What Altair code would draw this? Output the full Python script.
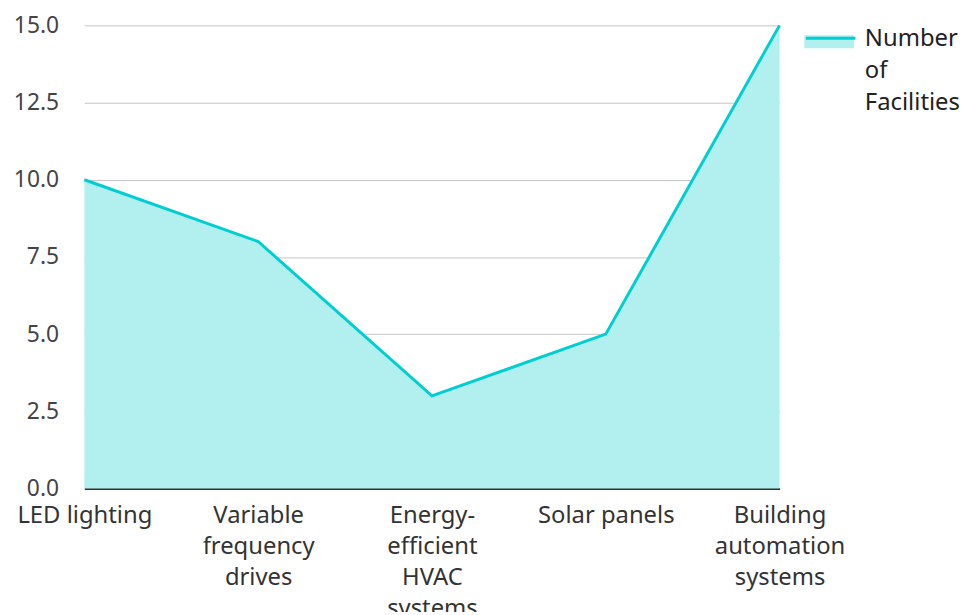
import altair as alt
import pandas as pd

categories = ["LED lighting", "Variable frequency drives", "Energy-efficient HVAC systems",
              "Solar panels", "Building automation systems"]
values = [10, 8, 3, 5, 15]
wrapped = [["LED lighting"], ["Variable", "frequency", "drives"],
           ["Energy-", "efficient", "HVAC", "systems"], ["Solar panels"],
           ["Building", "automation", "systems"]]
series_name = "Number of Facilities"
series_lines = ["Number", "of", "Facilities"]
y_ticks = [0, 2.5, 5, 7.5, 10, 12.5, 15]

LINE = "#00CED1"
FILL = "#B2EFEF"
FONT = "Noto Sans"

df = pd.DataFrame({"category": categories, "value": values})

mapping = "{" + ", ".join(
    "'" + c + "': [" + ", ".join("'" + w + "'" for w in ws) + "]"
    for c, ws in zip(categories, wrapped)) + "}"

x_enc = alt.X("category:N", sort=categories, title=None,
              scale=alt.Scale(type="point", padding=0),
              axis=alt.Axis(labelAngle=0, labelExpr=mapping + "[datum.label]",
                            labelFont=FONT, labelFontSize=24, labelColor="#333333",
                            labelLineHeight=31.5, labelPadding=15, ticks=False,
                            domainColor="#333333", domainWidth=2, grid=False,
                            labelBaseline="top", labelLimit=300))
y_enc = alt.Y("value:Q", title=None,
              scale=alt.Scale(domain=[0, 15], nice=False),
              axis=alt.Axis(values=y_ticks, format=".1f", labelFont=FONT, labelFontSize=23,
                            labelColor="#444444", labelPadding=26, ticks=False, domain=False,
                            gridColor="#c4c4c4", gridWidth=1))

area = alt.Chart(df).mark_area(opacity=1).encode(
    x=x_enc, y=y_enc,
    fill=alt.Fill("s:N", scale=alt.Scale(domain=["fill"], range=[FILL]),
                  legend=alt.Legend(title=None, orient="none", legendX=726, legendY=2,
                                    symbolType="M-1,-0.68H1V-0.16H-1Z", symbolSize=2500,
                                    symbolStrokeWidth=0, labelExpr="''",
                                    padding=0)),
).transform_calculate(s="'fill'")

line = alt.Chart(df).mark_line(strokeWidth=3).encode(
    x=x_enc, y=y_enc,
    stroke=alt.Stroke("s:N", scale=alt.Scale(domain=[series_name], range=[LINE]),
                      legend=alt.Legend(title=series_lines, titleOrient="right",
                                        titleLineHeight=32, titleFont=FONT, titleFontSize=24,
                                        titleFontWeight="normal", titleColor="#222222",
                                        titleBaseline="top", titleAnchor="start",
                                        titlePadding=3, titleLimit=300,
                                        orient="none", legendX=726, legendY=2,
                                        symbolType="M-1,-0.62H1", symbolSize=2500,
                                        symbolStrokeWidth=3, labelExpr="''",
                                        padding=0)),
).transform_calculate(s="'" + series_name + "'")

chart = alt.layer(area, line).resolve_scale(fill="independent", stroke="independent").properties(
    width=701, height=467,
    autosize=alt.AutoSizeParams(type="none"),
    padding={"left": 77, "top": 15, "right": 188, "bottom": 122},
).configure_view(stroke=None)

chart.save("out.html", embed_options={"renderer": "svg", "actions": False})
